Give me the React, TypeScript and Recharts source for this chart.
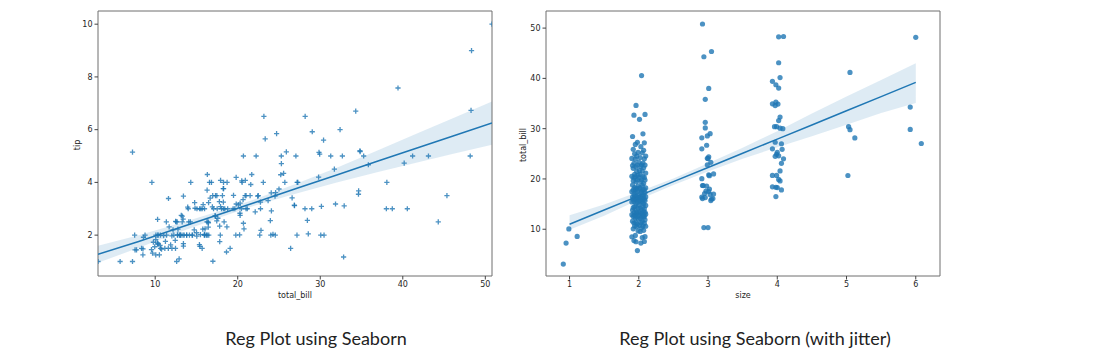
import React from 'react';
import {
  ComposedChart,
  Scatter,
  Line,
  Area,
  XAxis,
  YAxis,
  ReferenceArea,
} from 'recharts';

// tips: [total_bill, tip]
const tipPairs: [number, number][] = [
  [16.99, 1.01], [10.34, 1.66], [21.01, 3.5], [23.68, 3.31], [24.59, 3.61], [25.29, 4.71], [8.77, 2.0], [26.88, 3.12],
  [15.04, 1.96], [14.78, 3.23], [10.27, 1.71], [35.26, 5.0], [15.42, 1.57], [18.43, 3.0], [14.83, 3.02], [21.58, 3.92],
  [10.33, 1.67], [16.29, 3.71], [16.97, 3.5], [20.65, 3.35], [17.92, 4.08], [20.29, 2.75], [15.77, 2.23], [39.42, 7.58],
  [19.82, 3.18], [17.81, 2.34], [13.37, 2.0], [12.69, 2.0], [21.7, 4.3], [19.65, 3.0], [9.55, 1.45], [18.35, 2.5],
  [15.06, 3.0], [20.69, 2.45], [17.78, 3.27], [24.06, 3.6], [16.31, 2.0], [16.93, 3.07], [18.69, 2.31], [31.27, 5.0],
  [16.04, 2.24], [17.46, 2.54], [13.94, 3.06], [9.68, 1.32], [30.4, 5.6], [18.29, 3.0], [22.23, 5.0], [32.4, 6.0],
  [28.55, 2.05], [18.04, 3.0], [12.54, 2.5], [10.29, 2.6], [34.81, 5.2], [9.94, 1.56], [25.56, 4.34], [19.49, 3.51],
  [38.01, 3.0], [26.41, 1.5], [11.24, 1.76], [48.27, 6.73], [20.29, 3.21], [13.81, 2.0], [11.02, 1.98], [18.29, 3.76],
  [17.59, 2.64], [20.08, 3.15], [16.45, 2.47], [3.07, 1.0], [20.23, 2.01], [15.01, 2.09], [12.02, 1.97], [17.07, 3.0],
  [26.86, 3.14], [25.28, 5.0], [14.73, 2.2], [10.51, 1.25], [17.92, 3.08], [27.2, 4.0], [22.76, 3.0], [17.29, 2.71],
  [19.44, 3.0], [16.66, 3.4], [10.07, 1.83], [32.68, 5.0], [15.98, 2.03], [34.83, 5.17], [13.03, 2.0], [18.28, 4.0],
  [24.71, 5.85], [21.16, 3.0], [28.97, 3.0], [22.49, 3.5], [5.75, 1.0], [16.32, 4.3], [22.75, 3.25], [40.17, 4.73],
  [27.28, 4.0], [12.03, 1.5], [21.01, 3.0], [12.46, 1.5], [11.35, 2.5], [15.38, 3.0], [44.3, 2.5], [22.42, 3.48],
  [20.92, 4.08], [15.36, 1.64], [20.49, 4.06], [25.21, 4.29], [18.24, 3.76], [14.31, 4.0], [14.0, 3.0], [7.25, 1.0],
  [38.07, 4.0], [23.95, 2.55], [25.71, 4.0], [17.31, 3.5], [29.93, 5.07], [10.65, 1.5], [12.43, 1.8], [24.08, 2.92],
  [11.69, 2.31], [13.42, 1.68], [14.26, 2.5], [15.95, 2.0], [12.48, 2.52], [29.8, 4.2], [8.52, 1.48], [14.52, 2.0],
  [11.38, 2.0], [22.82, 2.18], [19.08, 1.5], [20.27, 2.83], [11.17, 1.5], [12.26, 2.0], [18.26, 3.25], [8.51, 1.25],
  [10.33, 2.0], [14.15, 2.0], [16.0, 2.0], [13.16, 2.75], [17.47, 3.5], [34.3, 6.7], [41.19, 5.0], [27.05, 5.0],
  [16.43, 2.3], [8.35, 1.5], [18.64, 1.36], [11.87, 1.63], [9.78, 1.73], [7.51, 2.0], [14.07, 2.5], [13.13, 2.0],
  [17.26, 2.74], [24.55, 2.0], [19.77, 2.0], [29.85, 5.14], [48.17, 5.0], [25.0, 3.75], [13.39, 2.61], [16.49, 2.0],
  [21.5, 3.5], [12.66, 2.5], [16.21, 2.0], [13.81, 2.0], [17.51, 3.0], [24.52, 3.48], [20.76, 2.24], [31.71, 4.5],
  [10.59, 1.61], [10.63, 2.0], [50.81, 10.0], [15.81, 3.16], [7.25, 5.15], [31.85, 3.18], [16.82, 4.0], [32.9, 3.11],
  [17.89, 2.0], [14.48, 2.0], [9.6, 4.0], [34.63, 3.55], [34.65, 3.68], [23.33, 5.65], [45.35, 3.5], [23.17, 6.5],
  [40.55, 3.0], [20.69, 5.0], [20.9, 3.5], [30.46, 2.0], [18.15, 3.5], [23.1, 4.0], [15.69, 1.5], [19.81, 4.19],
  [28.44, 2.56], [15.48, 2.02], [16.58, 4.0], [7.56, 1.44], [10.34, 2.0], [43.11, 5.0], [13.0, 2.0], [13.51, 2.0],
  [18.71, 4.0], [12.74, 2.01], [13.0, 2.0], [16.4, 2.5], [20.53, 4.0], [16.47, 3.23], [26.59, 3.41], [38.73, 3.0],
  [24.27, 2.03], [12.76, 2.23], [30.06, 2.0], [25.89, 5.16], [48.33, 9.0], [13.27, 2.5], [28.17, 6.5], [12.9, 1.1],
  [28.15, 3.0], [11.59, 1.5], [7.74, 1.44], [30.14, 3.09], [12.16, 2.2], [13.42, 3.48], [8.58, 1.92], [15.98, 3.0],
  [13.42, 1.58], [16.27, 2.5], [10.09, 2.0], [20.45, 3.0], [13.28, 2.72], [22.12, 2.88], [24.01, 2.0], [15.69, 3.0],
  [11.61, 3.39], [10.77, 1.47], [15.53, 3.0], [10.07, 1.25], [12.6, 1.0], [32.83, 1.17], [35.83, 4.67], [29.03, 5.92],
  [27.18, 2.0], [22.67, 2.0], [17.82, 1.75], [18.78, 3.0],
];

// regression fit + 95% band
const leftBandX = [3.07, 8, 13, 18, 22, 27, 32, 37, 42, 46, 50.81];
const leftFit = [1.27, 1.76, 2.29, 2.81, 3.23, 3.76, 4.28, 4.81, 5.33, 5.75, 6.25];
const leftLow = [0.95, 1.52, 2.12, 2.69, 3.11, 3.57, 4.0, 4.39, 4.77, 5.08, 5.43];
const leftHigh = [1.6, 2.0, 2.45, 2.93, 3.35, 3.94, 4.56, 5.22, 5.89, 6.42, 7.07];
const leftXTicks = [10, 20, 30, 40, 50];
const leftYTicks = [2, 4, 6, 8, 10];

// jittered size panel: total_bill per party size, with jittered x
const size1Bills = [3.07, 10.07, 7.25, 8.58];
const size1X = [0.91, 0.99, 0.95, 1.11];

const size2Bills = [
  40.55, 34.63, 32.83, 32.68, 31.85, 28.97, 28.44, 27.28, 27.18, 26.86,
  26.41, 25.89, 25.71, 25.28, 25.21, 25.0, 24.55, 24.52, 24.27, 24.08,
  24.01, 23.95, 23.33, 23.17, 23.1, 22.82, 22.76, 22.75, 22.67, 22.49,
  22.42, 22.23, 22.12, 21.7, 21.58, 21.5, 21.16, 20.92, 20.9, 20.76,
  20.53, 20.49, 20.45, 20.29, 20.27, 20.23, 19.82, 19.81, 19.77, 19.65,
  19.49, 19.44, 19.08, 18.78, 18.71, 18.64, 18.26, 18.28, 18.24, 18.15,
  18.04, 17.92, 17.89, 17.82, 17.78, 17.51, 17.47, 17.46, 17.31, 17.29,
  17.26, 16.99, 16.82, 16.66, 16.58, 16.49, 16.47, 16.43, 16.4, 16.32,
  16.27, 16.21, 16.0, 15.98, 15.98, 15.95, 15.81, 15.69, 15.69, 15.53,
  15.48, 15.42, 15.38, 15.36, 15.06, 15.01, 14.78, 14.73, 14.52, 14.48,
  14.31, 14.26, 14.15, 14.07, 14.0, 13.81, 13.81, 13.51, 13.42, 13.39,
  13.37, 13.28, 13.27, 13.16, 13.13, 13.03, 13.0, 12.9, 12.76, 12.74,
  12.66, 12.6, 12.54, 12.48, 12.46, 12.43, 12.26, 12.16, 12.02, 11.87,
  11.61, 11.59, 11.38, 11.35, 11.24, 11.17, 11.02, 10.77, 10.65, 10.63,
  10.59, 10.51, 10.29, 10.09, 9.78, 9.68, 9.55, 8.77, 8.52, 8.51,
  8.35, 7.74, 7.56, 7.51, 7.25, 5.75,
];
const size2X = [
  2.04, 1.96, 2.09, 1.93, 2.01, 2.06, 1.91, 1.98, 2.08, 1.95,
  2.03, 1.92, 2.07, 1.99, 2.05, 1.94, 2.1, 1.97, 2.02, 1.9,
  2.08, 1.95, 2.0, 2.06, 1.93, 2.04, 1.98, 2.09, 1.91, 2.03,
  1.96, 2.07, 1.92, 2.01, 2.05, 1.97, 2.1, 1.94, 2.02, 1.99,
  1.9, 2.06, 1.95, 2.08, 2.0, 1.93, 2.04, 1.98, 2.09, 1.92,
  2.03, 1.96, 2.07, 1.91, 2.05, 1.99, 2.02, 1.94, 2.1, 1.97,
  2.01, 1.95, 2.08, 1.92, 2.06, 1.98, 2.04, 1.9, 2.09, 1.96,
  2.03, 1.93, 2.07, 2.0, 1.94, 2.05, 1.97, 2.1, 1.91, 2.02,
  1.99, 2.06, 1.95, 2.08, 1.92, 2.04, 1.97, 2.01, 2.09, 1.93,
  2.05, 1.9, 2.03, 1.98, 2.07, 1.96, 2.0, 2.1, 1.94, 2.06,
  1.92, 2.02, 1.99, 2.08, 1.95, 2.04, 1.91, 2.07, 1.97, 2.01,
  2.09, 1.93, 2.05, 1.98, 2.03, 1.96, 2.1, 1.9, 2.06, 1.94,
  2.0, 2.08, 1.92, 2.04, 1.97, 2.07, 1.95, 2.02, 1.99, 2.09,
  1.91, 2.05, 1.96, 2.03, 1.93, 2.08, 1.98, 2.01, 2.06, 1.94,
  2.1, 1.97, 2.04, 1.92, 2.07, 1.99, 2.02, 1.95, 2.09, 1.9,
  2.05, 1.93, 2.08, 1.96, 2.03, 1.98,
];

const size3Bills = [
  50.81, 44.3, 45.35, 38.01, 35.83, 31.27, 30.14, 29.0, 28.55, 28.17,
  26.7, 26.0, 24.4, 24.1, 23.3, 22.8, 21.0, 20.8, 20.06, 18.7,
  18.6, 18.0, 17.5, 17.1, 17.0, 16.4, 16.1, 16.0, 15.7, 16.1,
  10.33, 10.34, 16.29, 16.93, 17.59, 20.65, 24.06, 18.69,
];
const size3X = [
  2.92, 2.94, 3.05, 3.01, 2.96, 2.96, 2.96, 3.03, 2.99, 2.91,
  2.98, 2.91, 3.01, 2.99, 3.04, 2.99, 3.08, 3.01, 2.91, 2.92,
  2.98, 3.02, 3.01, 2.95, 3.08, 2.91, 2.92, 3.05, 3.04, 3.07,
  2.94, 3.0, 2.96, 3.03, 2.97, 3.02, 3.0, 2.93,
];

const size4Bills = [
  48.27, 48.33, 43.11, 40.17, 39.42, 38.73, 38.07, 34.95, 35.26, 34.9,
  34.6, 32.3, 31.6, 30.4, 30.1, 30.0, 27.3, 27.0, 26.0, 25.9,
  24.9, 24.5, 24.6, 24.0, 23.1, 21.6, 20.7, 20.7, 19.9, 19.6,
  18.43, 18.35, 18.29, 17.81, 16.5, 30.4, 25.29,
];
const size4X = [
  4.02, 4.09, 4.02, 4.04, 3.93, 3.98, 4.02, 3.93, 3.98, 4.01,
  3.97, 4.04, 4.02, 3.96, 4.04, 4.08, 3.97, 4.06, 3.93, 4.07,
  3.99, 3.97, 4.02, 4.09, 4.06, 4.04, 3.93, 3.99, 4.02, 4.04,
  3.93, 3.98, 4.0, 4.06, 3.98, 3.99, 4.0,
];

const size5Bills = [41.19, 30.4, 29.8, 28.15, 20.69];
const size5X = [5.05, 5.03, 5.05, 5.12, 5.02];

const size6Bills = [48.17, 34.3, 29.85, 27.05];
const size6X = [6.0, 5.92, 5.92, 6.08];

const rightBandX = [1, 1.5, 2, 2.5, 3, 3.5, 4, 4.5, 5, 5.5, 6];
const rightFit = [11.0, 13.82, 16.64, 19.46, 22.28, 25.1, 27.92, 30.74, 33.56, 36.38, 39.2];
const rightLow = [9.9, 12.7, 15.85, 18.8, 21.5, 24.0, 26.3, 28.5, 30.8, 33.1, 35.1];
const rightHigh = [12.8, 14.9, 17.45, 20.1, 23.1, 26.2, 29.5, 33.0, 36.4, 39.7, 43.0];
const rightXTicks = [1, 2, 3, 4, 5, 6];
const rightYTicks = [10, 20, 30, 40, 50];

const BLUE = '#1f77b4';
const FRAME = '#6f6f6f';
const tickStyle = { fontSize: 8, fill: '#262626', fontFamily: 'DejaVu Sans' };

const leftPoints = tipPairs.map(([x, y]) => ({ x, y }));
const leftLine = leftBandX.map((x, i) => ({ x, fit: leftFit[i], band: [leftLow[i], leftHigh[i]] }));

const groups: [number[], number[]][] = [
  [size1X, size1Bills],
  [size2X, size2Bills],
  [size3X, size3Bills],
  [size4X, size4Bills],
  [size5X, size5Bills],
  [size6X, size6Bills],
];
const rightPoints = groups.flatMap(([xs, ys]) => ys.map((y, i) => ({ x: xs[i], y })));
const rightLine = rightBandX.map((x, i) => ({ x, fit: rightFit[i], band: [rightLow[i], rightHigh[i]] }));

const Plus = (props: any) => {
  const { cx, cy } = props;
  return (
    <path
      d={`M${cx - 2.6},${cy}h5.2M${cx},${cy - 2.6}v5.2`}
      stroke={BLUE}
      strokeOpacity={0.8}
      strokeWidth={1.3}
      fill="none"
    />
  );
};

const Dot = (props: any) => {
  const { cx, cy } = props;
  return <circle cx={cx} cy={cy} r={2.6} fill={BLUE} fillOpacity={0.8} />;
};

function RegPanel(props: {
  points: { x: number; y: number }[];
  line: { x: number; fit: number; band: number[] }[];
  xDomain: [number, number];
  yDomain: [number, number];
  xTicks: number[];
  yTicks: number[];
  width: number;
  margin: { top: number; right: number; bottom: number; left: number };
  shape: any;
}) {
  const { points, line, xDomain, yDomain, xTicks, yTicks, width, margin, shape } = props;
  return (
    <ComposedChart width={width} height={310} data={line} margin={margin}>
      <XAxis
        dataKey="x"
        type="number"
        domain={xDomain}
        allowDataOverflow
        ticks={xTicks}
        axisLine={false}
        tickLine={{ stroke: '#444' }}
        tickSize={3.5}
        tickMargin={1.5}
        height={30}
        tick={tickStyle}
      />
      <YAxis
        type="number"
        domain={yDomain}
        allowDataOverflow
        ticks={yTicks}
        axisLine={false}
        tickLine={{ stroke: '#444' }}
        tickSize={3.5}
        tickMargin={2}
        width={30}
        tick={tickStyle}
      />
      <Scatter data={points} dataKey="y" shape={shape} isAnimationActive={false} />
      <Area
        dataKey="band"
        stroke="none"
        fill={BLUE}
        fillOpacity={0.15}
        isAnimationActive={false}
      />
      <Line dataKey="fit" stroke={BLUE} strokeWidth={1.5} dot={false} isAnimationActive={false} />
      <ReferenceArea
        x1={xDomain[0]}
        x2={xDomain[1]}
        y1={yDomain[0]}
        y2={yDomain[1]}
        fill="none"
        stroke={FRAME}
        strokeWidth={1}
        ifOverflow="visible"
      />
    </ComposedChart>
  );
}

const labelFont: React.CSSProperties = {
  position: 'absolute',
  fontFamily: 'DejaVu Sans',
  fontSize: 8,
  color: '#262626',
  whiteSpace: 'nowrap',
};

const captionFont: React.CSSProperties = {
  position: 'absolute',
  fontFamily: 'Lato',
  fontSize: 18,
  color: '#222',
  whiteSpace: 'nowrap',
  transform: 'translate(-50%, -50%)',
};

export default function App() {
  return (
    <div style={{ position: 'absolute', left: 0, top: 0, width: 1102, height: 364, background: '#fff' }}>
      <div style={{ position: 'absolute', left: 0, top: 0 }}>
        <RegPanel
          points={leftPoints}
          line={leftLine}
          xDomain={[3.07, 50.81]}
          yDomain={[0.45, 10.5]}
          xTicks={leftXTicks}
          yTicks={leftYTicks}
          width={540}
          margin={{ top: 11, right: 48, bottom: 4, left: 68 }}
          shape={Plus}
        />
      </div>
      <div style={{ position: 'absolute', left: 500, top: 0 }}>
        <RegPanel
          points={rightPoints}
          line={rightLine}
          xDomain={[0.66, 6.35]}
          yDomain={[0.7, 53.4]}
          xTicks={rightXTicks}
          yTicks={rightYTicks}
          width={460}
          margin={{ top: 11, right: 20, bottom: 4, left: 16 }}
          shape={Dot}
        />
      </div>

      <div style={{ ...labelFont, left: 77, top: 145, transform: 'translate(-50%, -50%) rotate(-90deg)' }}>tip</div>
      <div style={{ ...labelFont, left: 295, top: 295, transform: 'translate(-50%, -50%)' }}>total_bill</div>
      <div style={{ ...labelFont, left: 523, top: 145, transform: 'translate(-50%, -50%) rotate(-90deg)' }}>total_bill</div>
      <div style={{ ...labelFont, left: 743, top: 295, transform: 'translate(-50%, -50%)' }}>size</div>

      <div style={{ ...captionFont, left: 316, top: 338 }}>Reg Plot using Seaborn</div>
      <div style={{ ...captionFont, left: 755, top: 338 }}>Reg Plot using Seaborn (with jitter)</div>
    </div>
  );
}
